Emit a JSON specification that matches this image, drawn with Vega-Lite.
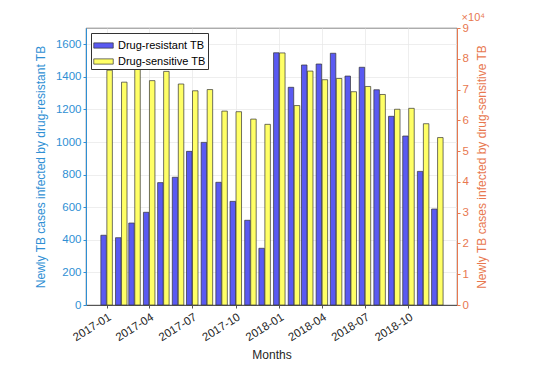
{
  "$schema": "https://vega.github.io/schema/vega-lite/v6.json",
  "width": 371,
  "height": 277,
  "autosize": {"type": "none"},
  "padding": {"left": 86, "top": 28, "right": 97, "bottom": 62},
  "background": "white",
  "title": {"text": "×10⁴", "anchor": "end", "frame": "group", "dx": 28, "offset": -1, "fontSize": 11, "fontWeight": "normal", "color": "#e8784f", "font": "Liberation Sans"},
  "config": {
    "font": "Liberation Sans",
    "view": {"stroke": "#555555", "strokeWidth": 0.7},
    "axis": {"labelFont": "Liberation Sans", "titleFont": "Liberation Sans", "labelFontSize": 11.5, "titleFontSize": 12, "titleFontWeight": "normal", "gridColor": "#e6e6e6", "gridWidth": 0.7, "tickSize": 3}
  },
  "data": {
    "values": [
      {"month": "2017-01-01", "series": "Drug-resistant TB", "value": 428},
      {"month": "2017-02-01", "series": "Drug-resistant TB", "value": 413},
      {"month": "2017-03-01", "series": "Drug-resistant TB", "value": 503},
      {"month": "2017-04-01", "series": "Drug-resistant TB", "value": 569},
      {"month": "2017-05-01", "series": "Drug-resistant TB", "value": 751},
      {"month": "2017-06-01", "series": "Drug-resistant TB", "value": 784},
      {"month": "2017-07-01", "series": "Drug-resistant TB", "value": 943},
      {"month": "2017-08-01", "series": "Drug-resistant TB", "value": 998},
      {"month": "2017-09-01", "series": "Drug-resistant TB", "value": 753},
      {"month": "2017-10-01", "series": "Drug-resistant TB", "value": 636},
      {"month": "2017-11-01", "series": "Drug-resistant TB", "value": 520},
      {"month": "2017-12-01", "series": "Drug-resistant TB", "value": 348},
      {"month": "2018-01-01", "series": "Drug-resistant TB", "value": 1548},
      {"month": "2018-02-01", "series": "Drug-resistant TB", "value": 1336},
      {"month": "2018-03-01", "series": "Drug-resistant TB", "value": 1473},
      {"month": "2018-04-01", "series": "Drug-resistant TB", "value": 1479},
      {"month": "2018-05-01", "series": "Drug-resistant TB", "value": 1545},
      {"month": "2018-06-01", "series": "Drug-resistant TB", "value": 1405},
      {"month": "2018-07-01", "series": "Drug-resistant TB", "value": 1459},
      {"month": "2018-08-01", "series": "Drug-resistant TB", "value": 1321},
      {"month": "2018-09-01", "series": "Drug-resistant TB", "value": 1158},
      {"month": "2018-10-01", "series": "Drug-resistant TB", "value": 1037},
      {"month": "2018-11-01", "series": "Drug-resistant TB", "value": 820},
      {"month": "2018-12-01", "series": "Drug-resistant TB", "value": 589},
      {"month": "2017-01-01", "series": "Drug-sensitive TB", "value": 76300},
      {"month": "2017-02-01", "series": "Drug-sensitive TB", "value": 72400},
      {"month": "2017-03-01", "series": "Drug-sensitive TB", "value": 77000},
      {"month": "2017-04-01", "series": "Drug-sensitive TB", "value": 72900},
      {"month": "2017-05-01", "series": "Drug-sensitive TB", "value": 75900},
      {"month": "2017-06-01", "series": "Drug-sensitive TB", "value": 71800},
      {"month": "2017-07-01", "series": "Drug-sensitive TB", "value": 69600},
      {"month": "2017-08-01", "series": "Drug-sensitive TB", "value": 70000},
      {"month": "2017-09-01", "series": "Drug-sensitive TB", "value": 63000},
      {"month": "2017-10-01", "series": "Drug-sensitive TB", "value": 62800},
      {"month": "2017-11-01", "series": "Drug-sensitive TB", "value": 60400},
      {"month": "2017-12-01", "series": "Drug-sensitive TB", "value": 58700},
      {"month": "2018-01-01", "series": "Drug-sensitive TB", "value": 81900},
      {"month": "2018-02-01", "series": "Drug-sensitive TB", "value": 64800},
      {"month": "2018-03-01", "series": "Drug-sensitive TB", "value": 76000},
      {"month": "2018-04-01", "series": "Drug-sensitive TB", "value": 73200},
      {"month": "2018-05-01", "series": "Drug-sensitive TB", "value": 73600},
      {"month": "2018-06-01", "series": "Drug-sensitive TB", "value": 69300},
      {"month": "2018-07-01", "series": "Drug-sensitive TB", "value": 71000},
      {"month": "2018-08-01", "series": "Drug-sensitive TB", "value": 68400},
      {"month": "2018-09-01", "series": "Drug-sensitive TB", "value": 63600},
      {"month": "2018-10-01", "series": "Drug-sensitive TB", "value": 63900},
      {"month": "2018-11-01", "series": "Drug-sensitive TB", "value": 58900},
      {"month": "2018-12-01", "series": "Drug-sensitive TB", "value": 54400}
    ]
  },
  "encoding": {
    "x": {
      "field": "month",
      "type": "temporal",
      "scale": {
        "type": "utc",
        "domain": [
          {"year": 2016, "month": 11, "date": 29, "utc": true},
          {"year": 2019, "month": 1, "date": 1, "utc": true}
        ]
      },
      "axis": {
        "title": "Months",
        "titleColor": "#262626",
        "titlePadding": 6,
        "labelColor": "#262626",
        "domainColor": "#555555",
        "tickColor": "#555555",
        "labelAngle": -32,
        "labelPadding": 3,
        "format": "%Y-%m",
        "grid": true,
        "values": [
          {"year": 2017, "month": 1, "date": 1, "utc": true},
          {"year": 2017, "month": 4, "date": 1, "utc": true},
          {"year": 2017, "month": 7, "date": 1, "utc": true},
          {"year": 2017, "month": 10, "date": 1, "utc": true},
          {"year": 2018, "month": 1, "date": 1, "utc": true},
          {"year": 2018, "month": 4, "date": 1, "utc": true},
          {"year": 2018, "month": 7, "date": 1, "utc": true},
          {"year": 2018, "month": 10, "date": 1, "utc": true}
        ]
      }
    },
    "color": {
      "field": "series",
      "type": "nominal",
      "scale": {"domain": ["Drug-resistant TB", "Drug-sensitive TB"], "range": ["#5a5af2", "#ffff66"]},
      "legend": {
        "title": null,
        "orient": "top-left",
        "offset": 5,
        "fillColor": "white",
        "strokeColor": "#333333",
        "padding": 2,
        "rowPadding": -5,
        "labelFontSize": 11,
        "labelColor": "#000000",
        "labelOffset": 4,
        "symbolType": "M-1,-0.27H1V0.27H-1Z",
        "symbolSize": 380,
        "symbolStrokeColor": "#333333",
        "symbolStrokeWidth": 0.7,
        "symbolOpacity": 1
      }
    }
  },
  "layer": [
    {
      "transform": [{"filter": "datum.series === 'Drug-resistant TB'"}],
      "mark": {"type": "bar", "size": 5.5, "xOffset": -3, "stroke": "#333333", "strokeWidth": 0.7, "opacity": 1},
      "encoding": {
        "y": {
          "field": "value",
          "type": "quantitative",
          "scale": {"domain": [0, 1700], "nice": false},
          "axis": {
            "title": "Newly TB cases infected by drug-resistant TB",
            "titleColor": "#2f8fd4",
            "labelColor": "#2f8fd4",
            "domainColor": "#2f8fd4",
            "tickColor": "#2f8fd4",
            "titlePadding": 8,
            "format": "d",
            "values": [0, 200, 400, 600, 800, 1000, 1200, 1400, 1600],
            "grid": true
          }
        }
      }
    },
    {
      "transform": [{"filter": "datum.series === 'Drug-sensitive TB'"}],
      "mark": {"type": "bar", "size": 5.5, "xOffset": 3, "stroke": "#333333", "strokeWidth": 0.7, "opacity": 1},
      "encoding": {
        "y": {
          "field": "value",
          "type": "quantitative",
          "scale": {"domain": [0, 90000], "nice": false},
          "axis": {
            "orient": "right",
            "title": "Newly TB cases infected by drug-sensitive TB",
            "titleAngle": 270,
            "titleBaseline": "top",
            "titleColor": "#e8784f",
            "labelColor": "#e8784f",
            "domainColor": "#e8784f",
            "tickColor": "#e8784f",
            "titlePadding": 8,
            "values": [0, 10000, 20000, 30000, 40000, 50000, 60000, 70000, 80000, 90000],
            "labelExpr": "datum.value / 10000",
            "grid": false
          }
        }
      }
    }
  ],
  "resolve": {"scale": {"y": "independent"}}
}
